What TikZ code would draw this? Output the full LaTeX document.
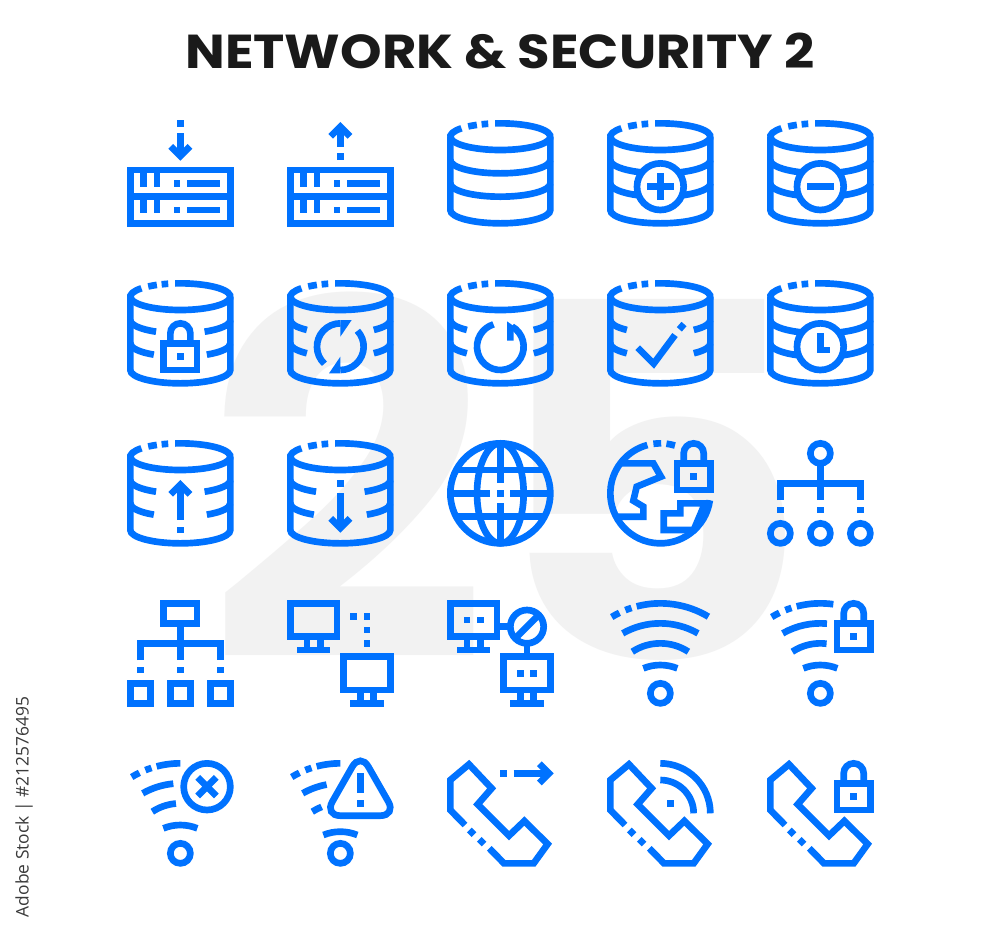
\documentclass[tikz,border=0pt]{standalone}
\usepackage{fontspec}
\newfontfamily\titlefont{Poppins}
\newfontfamily\stockfont{Open Sans}
\definecolor{iconblue}{HTML}{0072FF}
\definecolor{titleblack}{HTML}{1A1A1A}
\definecolor{bignum}{HTML}{F2F2F2}
\definecolor{stockgrey}{HTML}{3A3A3A}

% square dot, centred on the point
\newcommand{\dotsq}[2]{\fill (#1-.5,#2-.5) rectangle ++(1,1);}
% band of the cylinder, whole or cut on both sides
\newcommand{\bandarc}[1]{\draw ([shift={(0:7.5 and 2)}]8,#1) arc (0:180:7.5 and 2);}
\newcommand{\bandcut}[2]{%
	\draw ([shift={(0:7.5 and 2)}]8,#1) arc (0:#2:7.5 and 2);
	\draw ([shift={(180-#2:7.5 and 2)}]8,#1) arc (180-#2:180:7.5 and 2);}
\newcommand{\cylbody}{%
	\draw ([shift={(-96:7.5 and 2)}]8,2.5) arc (-96:219:7.5 and 2);
	\draw ([shift={(-104:7.5 and 2)}]8,2.5) arc (-104:-112:7.5 and 2);
	\draw ([shift={(-118:7.5 and 2)}]8,2.5) arc (-118:-130:7.5 and 2);
	\draw (0.5,2.5) -- (0.5,13.5) arc (180:0:7.5 and 2) -- (15.5,2.5);}
\newcommand{\padlock}[2]{%
	\begin{scope}[shift={(#1,#2)}]
		\draw (0.5,3.5) rectangle (5.5,7.5);
		\draw (1.5,3.5) -- (1.5,2) arc (180:360:1.5) -- (4.5,3.5);
		\dotsq{3}{5.5}
	\end{scope}}
\newcommand{\monitor}[2]{%
	\begin{scope}[shift={(#1,#2)}]
		\draw (0.5,0.5) rectangle (7.5,5.5);
		\draw (3,6) -- (3,7) (5,6) -- (5,7);
		\draw (1.5,7.5) -- (6.5,7.5);
	\end{scope}}
\newcommand{\serverrack}{%
	\draw (0.5,7.5) rectangle (15.5,15.5);
	\draw (0.5,11.5) -- (15.5,11.5);
	\draw (2.5,8) -- (2.5,10) (4.5,8) -- (4.5,10);
	\draw (2.5,12) -- (2.5,14) (4.5,12) -- (4.5,14);
	\dotsq{7.5}{9.5} \dotsq{7.5}{13.5}
	\draw (9,9.5) -- (14,9.5) (9,13.5) -- (14,13.5);}
% wifi arcs: centre y, radius, from, to
\newcommand{\wifiarc}[4]{\draw ([shift={(#3:#2)}]8,#1) arc (#3:#4:#2);}
\newcommand{\wifidot}{\draw (8,14) circle (1.5);}
\newcommand{\phone}{%
	\draw (2.7,9.75) -- (0.5,7.5) -- (0.5,3) -- (3.3,0.65) -- (6.7,4.25) -- (4.6,6.65)
		-- (9.3,11.35) -- (11.6,9.15) -- (15.1,12.6) -- (13,15.5) -- (8.55,15.5) -- (6.35,13.25);
	\draw (3.35,10.5) -- (4.05,11.2);
	\draw (4.85,11.9) -- (5.55,12.6);}

\tikzset{
	every pic/.style={xscale=6.6667,yscale=-6.6667,line width=3.3333pt,iconblue},
	rackdown/.pic={
		\serverrack
		\dotsq{8}{0.5}
		\draw (8,2) -- (8,5.4);
		\draw (6.55,3.95) -- (8,5.4) -- (9.45,3.95);
	},
	rackup/.pic={
		\serverrack
		\dotsq{8}{5.5}
		\draw (8,1) -- (8,4);
		\draw (6.55,2.45) -- (8,1) -- (9.45,2.45);
	},
	cylplain/.pic={\cylbody \bandarc{6} \bandarc{9.5}},
	cylplus/.pic={\cylbody \bandcut{6}{68.5} \bandcut{9.5}{64.3}
		\draw (8,10) circle (3.5);
		\draw (6,10) -- (10,10) (8,8) -- (8,12);},
	cylminus/.pic={\cylbody \bandcut{6}{68.5} \bandcut{9.5}{64.3}
		\draw (8,10) circle (3.5);
		\draw (6,10) -- (10,10);},
	cyllock/.pic={\cylbody \bandcut{6}{61} \bandcut{9.5}{58}
		\padlock{5}{6}},
	cylsync/.pic={\cylbody \bandcut{6}{48} \bandcut{9.5}{48}
		\draw ([shift={(133:3.5)}]8,10) arc (133:270:3.5);
		\draw ([shift={(-43:3.5)}]8,10) arc (-43:90:3.5);
		\fill (8,6) -- (9.7,6) -- (8,8.5) -- cycle;
		\fill (6.3,14) -- (8,14) -- (8,11.5) -- cycle;},
	cylrestart/.pic={\cylbody \bandcut{6}{48} \bandcut{9.5}{48}
		\draw ([shift={(-60:3.5)}]8,10) arc (-60:253:3.5);
		\fill (9,6.2) -- (10.7,7.4) -- (10,7.4) -- (10,9.1) -- (9,9.1) -- cycle;},
	cylcheck/.pic={\cylbody \bandcut{6}{48} \bandcut{9.5}{48}
		\draw (4.6,10.15) -- (7,12.55) -- (10.2,8.25);
		\draw (10.85,7.4) -- (11.55,6.6);},
	cylclock/.pic={\cylbody \bandcut{6}{68.5} \bandcut{9.5}{64.3}
		\draw (8,10) circle (3.5);
		\draw (8,8) -- (8,10.5) -- (9.5,10.5);},
	cylup/.pic={\cylbody \bandcut{6}{61} \bandcut{9.5}{58}
		\draw (8,6.7) -- (8,12);
		\draw (6.55,8.15) -- (8,6.7) -- (9.45,8.15);
		\dotsq{8}{13.5}},
	cyldown/.pic={\cylbody \bandcut{6}{61} \bandcut{9.5}{58}
		\dotsq{8}{6.5}
		\draw (8,8) -- (8,13.2);
		\draw (6.55,11.75) -- (8,13.2) -- (9.45,11.75);},
	globe/.pic={
		\draw (8,8) circle (7.5);
		\draw (8,8) ellipse (3.5 and 7.5);
		\draw (8,0.5) -- (8,6.5) (8,9.5) -- (8,15.5);
		\draw (0.5,8) -- (6.5,8) (9.5,8) -- (15.5,8);
		\draw (1.37,4.5) -- (14.63,4.5) (1.37,11.5) -- (14.63,11.5);
		\dotsq{8}{8}},
	earthlock/.pic={
		\draw ([shift={(8:7.5)}]8,8) arc (8:255:7.5);
		\draw ([shift={(262:7.5)}]8,8) arc (262:271:7.5);
		\draw ([shift={(277:7.5)}]8,8) arc (277:287:7.5);
		\draw (2,3.5) -- (6.95,3.5) -- (8.1,5.5) -- (4.45,7) -- (3.95,9.1) -- (5.45,10) -- (5.45,11.5) -- (1.37,11.5);
		\draw (15.5,9.5) -- (11,9.5) -- (11,11) -- (8.5,11) -- (8.5,13.5) -- (13,13.5) -- (14.7,9.5);
		\padlock{10}{0}},
	treeround/.pic={
		\draw (8,2) circle (1.5);
		\draw (8,3.5) -- (8,9);
		\draw (2,9) -- (2,6.5) -- (14,6.5) -- (14,9);
		\dotsq{2}{10.5} \dotsq{8}{10.5} \dotsq{14}{10.5}
		\draw (2,14) circle (1.5) (8,14) circle (1.5) (14,14) circle (1.5);},
	treesquare/.pic={
		\draw (5.5,0.5) rectangle (10.5,3.5);
		\draw (8,4) -- (8,9);
		\draw (2,9) -- (2,6.5) -- (14,6.5) -- (14,9);
		\dotsq{2}{10.5} \dotsq{8}{10.5} \dotsq{14}{10.5}
		\draw (0.5,12.5) rectangle (3.5,15.5);
		\draw (6.5,12.5) rectangle (9.5,15.5);
		\draw (12.5,12.5) rectangle (15.5,15.5);},
	twomonitor/.pic={
		\monitor{0}{0} \monitor{8}{8}
		\dotsq{10}{2.5} \dotsq{12}{2.5} \dotsq{12}{4.5} \dotsq{12}{6.5}},
	blockmonitor/.pic={
		\monitor{0}{0} \monitor{8}{8}
		\dotsq{3}{3} \dotsq{5}{3} \dotsq{11}{11} \dotsq{13}{11}
		\draw (12,4) circle (2.5);
		\draw (8,4) -- (9.5,4);
		\draw (12,6.5) -- (12,8);
		\draw (10.23,5.77) -- (13.77,2.23);},
	wififull/.pic={
		\wifidot
		\wifiarc{16.5}{6.75}{-112.2}{-67.8}
		\wifiarc{14.18}{7.68}{-123.2}{-56.8}
		\wifiarc{14.9}{11.4}{-119.7}{-60.3}
		\wifiarc{14.5}{14}{-104.7}{-59}
		\wifiarc{14.5}{14}{-112}{-108}
		\wifiarc{14.5}{14}{-121.4}{-116}},
	wifilock/.pic={
		\wifidot
		\wifiarc{16.5}{6.75}{-112.2}{-67.8}
		\wifiarc{14.18}{7.68}{-123.2}{-83}
		\wifiarc{14.9}{11.4}{-119.7}{-85}
		\wifiarc{14.5}{14}{-104.7}{-82}
		\wifiarc{14.5}{14}{-112}{-108}
		\wifiarc{14.5}{14}{-121.4}{-116}
		\padlock{10}{0}},
	wifiblock/.pic={
		\wifidot
		\wifiarc{16.5}{6.75}{-112.2}{-67.8}
		\wifiarc{14.18}{7.68}{-123.2}{-94.9}
		\wifiarc{14.9}{11.4}{-119.7}{-95.3}
		\wifiarc{14.5}{14}{-104.7}{-90}
		\wifiarc{14.5}{14}{-112}{-108}
		\wifiarc{14.5}{14}{-121.4}{-116}
		\draw (12,4) circle (3.5);
		\draw (10.6,2.6) -- (13.4,5.4) (13.4,2.6) -- (10.6,5.4);},
	wifiwarn/.pic={
		\wifidot
		\wifiarc{17.5}{6.75}{-112.2}{-67.8}
		\wifiarc{14.18}{7.68}{-123.2}{-111.4}
		\wifiarc{14.9}{11.4}{-119.7}{-100.4}
		\wifiarc{14.5}{14}{-104.7}{-90}
		\wifiarc{14.5}{14}{-112}{-108}
		\wifiarc{14.5}{14}{-121.4}{-116}
		\draw[rounded corners=8pt] (11,-1.1) -- (16.4,8.35) -- (5.6,8.35) -- cycle;
		\draw (11,2) -- (11,5);
		\dotsq{11}{6.5}},
	phonesend/.pic={
		\phone
		\dotsq{8.5}{2}
		\draw (10,2) -- (15.3,2);
		\draw (13.85,0.55) -- (15.3,2) -- (13.85,3.45);},
	phonesignal/.pic={
		\phone
		\draw (8,0.5) arc (-90:0:7.5);
		\draw (8,3) arc (-90:0:5);
		\dotsq{9.5}{6.5}},
	phonelock/.pic={
		\phone
		\padlock{10}{0}}
}

\begin{document}
\begin{tikzpicture}[x=0.5pt,y=0.5pt,yscale=-1]

	\useasboundingbox (0,0) rectangle (1000,933);
	\fill[white] (0,0) rectangle (1000,933);

	\node[text=bignum,font={\titlefont\bfseries\fontsize{247}{247}\selectfont},anchor=center] (bigcount) at (508,476) {25};

	\node[text=titleblack,font={\titlefont\bfseries\fontsize{23.8}{28}\selectfont},anchor=center] (title) at (500,51) {\scalebox{1.11}[1]{NETWORK \& SECURITY 2}};
	\node[text=stockgrey,font={\stockfont\fontsize{8.7}{10}\selectfont},rotate=90,anchor=center] (stockid) at (24,807) {Adobe Stock | \#212576495};

	\pic at (127,120) {rackdown};
	\pic at (287,120) {rackup};
	\pic at (447,120) {cylplain};
	\pic at (607,120) {cylplus};
	\pic at (767,120) {cylminus};

	\pic at (127,280) {cyllock};
	\pic at (287,280) {cylsync};
	\pic at (447,280) {cylrestart};
	\pic at (607,280) {cylcheck};
	\pic at (767,280) {cylclock};

	\pic at (127,440) {cylup};
	\pic at (287,440) {cyldown};
	\pic at (447,440) {globe};
	\pic at (607,440) {earthlock};
	\pic at (767,440) {treeround};

	\pic at (127,600) {treesquare};
	\pic at (287,600) {twomonitor};
	\pic at (447,600) {blockmonitor};
	\pic at (607,600) {wififull};
	\pic at (767,600) {wifilock};

	\pic at (127,760) {wifiblock};
	\pic at (287,760) {wifiwarn};
	\pic at (447,760) {phonesend};
	\pic at (607,760) {phonesignal};
	\pic at (767,760) {phonelock};

\end{tikzpicture}
\end{document}
